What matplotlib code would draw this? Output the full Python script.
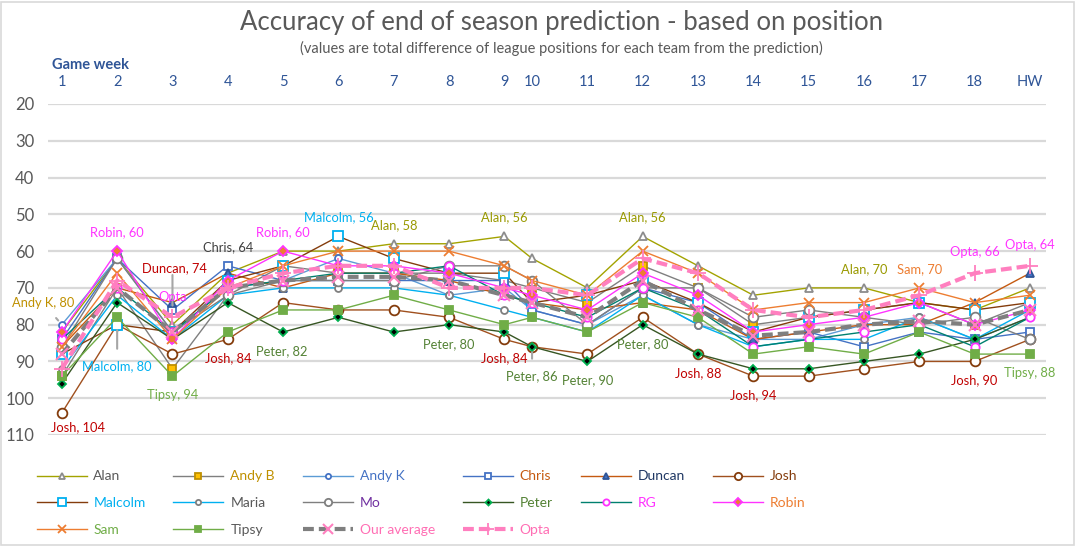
"""
Accuracy of end of season prediction - line chart per predictor
"""
import matplotlib
matplotlib.use('Agg')
import matplotlib.pyplot as plt
from matplotlib.patches import Rectangle

# pylint: disable=invalid-name

plt.rcParams['font.family'] = ['Lato', 'DejaVu Sans']

weeks = ['1', '2', '3', '4', '5', '6', '7', '8', '9', '10', '11', '12',
         '13', '14', '15', '16', '17', '18', 'HW']
# x value of each game week on the chart (week 10 sits half way after 9)
x_pos = [1, 2, 3, 4, 5, 6, 7, 8, 9, 9.5, 10.5, 11.5, 12.5, 13.5, 14.5,
         15.5, 16.5, 17.5, 18.5]

alan = [82, 62, 80, 66, 60, 60, 58, 58, 56, 62, 70, 56, 64, 72, 70, 70, 74, 76, 70]
andy_b = [94, 70, 92, 72, 64, 66, 66, 66, 68, 70, 74, 64, 70, 80, 78, 76, 74, 80, 74]
andy_k = [80, 62, 82, 70, 68, 62, 66, 72, 70, 76, 80, 72, 80, 84, 84, 80, 78, 84, 78]
chris = [84, 62, 76, 64, 68, 68, 68, 68, 68, 76, 80, 70, 74, 84, 82, 86, 82, 84, 82]
duncan = [86, 70, 74, 66, 70, 66, 66, 68, 72, 74, 76, 74, 76, 84, 82, 80, 80, 74, 66]
josh = [104, 80, 88, 84, 74, 76, 76, 78, 84, 86, 88, 78, 88, 94, 94, 92, 90, 90, 84]
malcolm = [88, 80, 82, 68, 64, 56, 62, 66, 66, 74, 72, 68, 74, 82, 78, 76, 74, 76, 74]
maria = [92, 72, 84, 72, 70, 70, 70, 72, 76, 78, 82, 72, 80, 86, 84, 84, 78, 84, 76]
mo = [86, 62, 82, 72, 68, 68, 68, 64, 64, 68, 80, 70, 70, 78, 76, 78, 80, 78, 84]
peter = [96, 74, 84, 74, 82, 78, 82, 80, 82, 86, 90, 80, 88, 92, 92, 90, 88, 84, 78]
rg = [84, 70, 82, 70, 68, 66, 66, 64, 72, 74, 78, 70, 76, 86, 84, 82, 80, 86, 78]
robin = [82, 60, 84, 68, 60, 64, 64, 66, 70, 72, 76, 66, 72, 82, 80, 78, 74, 80, 76]
sam = [86, 66, 84, 70, 64, 60, 60, 60, 64, 68, 72, 60, 66, 76, 74, 74, 70, 74, 72]
tipsy = [94, 78, 94, 82, 76, 76, 72, 76, 80, 78, 82, 74, 78, 88, 86, 88, 82, 88, 88]
our_average = [88, 70, 82, 70, 68, 67, 67, 68, 72, 74, 78, 68, 76, 83, 82, 80, 79, 80, 76]
opta = [92, 68, 78, 70, 66, 64, 64, 70, 70, 70, 72, 62, 66, 76, 78, 76, 72, 66, 64]

# name, values, line colour, marker, marker face, marker edge, size, legend text colour
series = [
    ('Alan', alan, '#a3a300', '^', 'white', '#8c8c8c', 6, '#595959'),
    ('Andy B', andy_b, '#7f7f7f', 's', '#ffc000', '#bf9000', 6, '#bf9000'),
    ('Andy K', andy_k, '#5b9bd5', 'o', 'white', '#4472c4', 5, '#4472c4'),
    ('Chris', chris, '#4472c4', 's', 'white', '#4472c4', 6, '#c55a11'),
    ('Duncan', duncan, '#c55a11', '^', '#4472c4', '#2f5597', 6, '#203864'),
    ('Josh', josh, '#a0501e', 'o', 'white', '#843c0c', 7, '#843c0c'),
    ('Malcolm', malcolm, '#843c0c', 's', 'white', '#00b0f0', 7, '#00b0f0'),
    ('Maria', maria, '#00b0f0', 'o', 'white', '#7f7f7f', 5, '#595959'),
    ('Mo', mo, '#7f7f7f', 'o', 'white', '#7f7f7f', 7, '#7030a0'),
    ('Peter', peter, '#375623', 'D', 'black', '#00b050', 4, '#548235'),
    ('RG', rg, '#00806f', 'o', 'white', '#ff33ff', 6, '#ff33ff'),
    ('Robin', robin, '#ff33ff', 'D', '#ed7d31', '#ff33ff', 5, '#ed7d31'),
    ('Sam', sam, '#ed7d31', 'x', '#ed7d31', '#ed7d31', 7, '#70ad47'),
    ('Tipsy', tipsy, '#70ad47', 's', '#70ad47', '#70ad47', 6, '#595959'),
]

fig = plt.figure(figsize=(10.76, 5.46), dpi=100)
ax = fig.add_axes([48 / 1076, 1 - 435 / 546, 998 / 1076, 331 / 546])

lines = {}
text_cols = {}
for name, vals, lc, mk, mfc, mec, ms, tc in series:
    ln, = ax.plot(x_pos, vals, color=lc, lw=1.0, marker=mk, mfc=mfc, mec=mec,
                  ms=ms, mew=1.3, label=name, zorder=3)
    lines[name] = ln
    text_cols[name] = tc

ln, = ax.plot(x_pos, our_average, color='#7f7f7f', lw=3, ls=(0, (2.6, 1.2)),
              marker='x', mec='#ff7fbf', ms=9, mew=1.5, label='Our average',
              zorder=4)
lines['Our average'] = ln
text_cols['Our average'] = '#ff6eb4'
ln, = ax.plot(x_pos, opta, color='#ff7fbf', lw=3, ls=(0, (2.6, 1.2)),
              marker='+', mec='#ff7fbf', ms=12, mew=1.3, label='Opta', zorder=5)
lines['Opta'] = ln
text_cols['Opta'] = '#ff6eb4'

ax.set_ylim(110, 20)
ax.set_xlim(0.75, 18.79)
ax.set_yticks(range(20, 111, 10))
ax.set_xticks(x_pos)
ax.set_xticklabels(weeks)
ax.xaxis.tick_top()
ax.tick_params(axis='x', length=0, pad=11, labelsize=10.5, labelcolor='#2f5597')
ax.tick_params(axis='y', length=0, pad=10, labelsize=12, labelcolor='#595959')
ax.grid(axis='y', color='#d9d9d9', lw=1.6)
ax.set_axisbelow(True)
for sp in ax.spines.values():
    sp.set_visible(False)

fig.text(0.522, 0.958, 'Accuracy of end of season prediction - based on position',
         ha='center', va='center', fontsize=18.5, color='#595959')
fig.text(0.522, 0.912, '(values are total difference of league positions for each '
         'team from the prediction)', ha='center', va='center', fontsize=10.5,
         color='#595959')
fig.text(52 / 1076, 1 - 65 / 546, 'Game week', ha='left', va='center',
         fontsize=10.5, fontweight='bold', color='#2f5597')

# point labels: text, week index, x shift, y of text, colour
labels = [
    ('Robin, 60', 1, 0, 54.8, '#ff33ff'),
    ('Duncan, 74', 2, 0.04, 64.6, '#c00000'),
    ('Opta', 2, 0, 72.4, '#ff33ff'),
    ('Chris, 64', 3, 0, 58.9, '#404040'),
    ('Robin, 60', 4, 0, 54.8, '#ff33ff'),
    ('Malcolm, 56', 5, 0, 50.7, '#00b0f0'),
    ('Alan, 58', 6, 0, 52.9, '#999900'),
    ('Alan, 56', 8, 0, 50.7, '#999900'),
    ('Alan, 56', 11, 0, 50.7, '#999900'),
    ('Josh, 104', 0, 0.3, 108.0, '#c00000'),
    ('Tipsy, 94', 2, 0, 99.1, '#70ad47'),
    ('Josh, 84', 3, 0, 89.0, '#c00000'),
    ('Peter, 82', 4, -0.03, 87.1, '#548235'),
    ('Peter, 80', 7, 0, 85.2, '#548235'),
    ('Josh, 84', 8, 0, 89.0, '#c00000'),
    ('Peter, 90', 10, 0, 95.0, '#548235'),
    ('Peter, 80', 11, 0, 85.2, '#548235'),
    ('Josh, 88', 12, 0, 93.1, '#c00000'),
    ('Josh, 94', 13, 0, 99.1, '#c00000'),
    ('Alan, 70', 15, 0, 64.8, '#999900'),
    ('Sam, 70', 16, 0, 64.8, '#ed7d31'),
    ('Opta, 66', 17, 0, 60.2, '#ff33ff'),
    ('Opta, 64', 18, 0, 58.3, '#ff33ff'),
    ('Josh, 90', 17, 0, 95.0, '#c00000'),
    ('Tipsy, 88', 18, 0, 93.1, '#70ad47'),
]
for txt, i, dx, ty, col in labels:
    ax.text(x_pos[i] + dx, ty, txt, ha='center', va='center', fontsize=9.3,
            color=col, zorder=6)

# labels with a leader line: text, week index, value, text x shift, text y, colour
leaders = [
    ('Andy K, 80', 0, andy_k[0], -0.34, 74.1, '#bf9000'),
    ('Malcolm, 80', 1, malcolm[1], 0, 91.2, '#00b0f0'),
    ('Peter, 86', 9, peter[9], 0, 93.9, '#548235'),
]
for txt, i, v, dx, ty, col in leaders:
    ax.annotate(txt, xy=(x_pos[i], v), xytext=(x_pos[i] + dx, ty),
                ha='center', va='center', fontsize=9.3, color=col, zorder=6,
                arrowprops=dict(arrowstyle='-', color='#a6a6a6', lw=1.5,
                                shrinkA=6, shrinkB=4))
ax.annotate('', xy=(x_pos[2], duncan[2] + 0.8), xytext=(x_pos[2], 66.5),
            arrowprops=dict(arrowstyle='-', color='#a6a6a6', lw=1.5,
                            shrinkA=0, shrinkB=0))

order = ['Alan', 'Malcolm', 'Sam', 'Andy B', 'Maria', 'Tipsy', 'Andy K', 'Mo',
         'Our average', 'Chris', 'Peter', 'Opta', 'Duncan', 'RG', 'Josh', 'Robin']
leg = fig.legend([lines[n] for n in order], order, ncol=6, loc='upper left',
                 bbox_to_anchor=(24 / 1076, 1 - 458 / 546), frameon=False,
                 fontsize=10, handlelength=3.6, labelspacing=1.05,
                 columnspacing=2.0, handletextpad=0.5, markerscale=0.75)
for t in leg.get_texts():
    t.set_color(text_cols[t.get_text()])

fig.patches.append(Rectangle((0.001, 0.002), 0.997, 0.995, transform=fig.transFigure,
                             fill=False, edgecolor='#d9d9d9', lw=1.2))

fig.savefig('out.png', dpi=100)
